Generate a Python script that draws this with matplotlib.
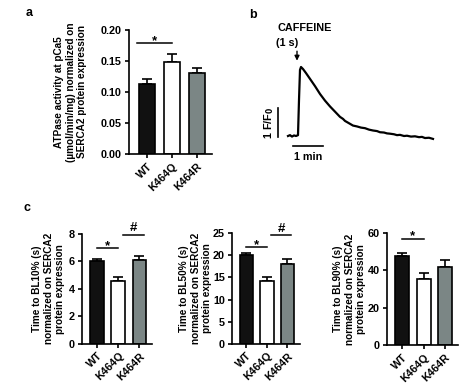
import numpy as np
import matplotlib
matplotlib.use("Agg")
import matplotlib.pyplot as plt

plt.rcParams['font.family'] = ['Liberation Sans', 'DejaVu Sans']
plt.rcParams['font.weight'] = 'bold'

groups = ['WT', 'K464Q', 'K464R']
bar_colors = ['#111111', '#ffffff', '#7b8685']

# panel a: ATPase activity
atpase_mean = [0.113, 0.149, 0.131]
atpase_err = [0.008, 0.013, 0.007]

# panel c: time to baseline
bl10_mean = [6.0, 4.55, 6.1]
bl10_err = [0.2, 0.28, 0.25]
bl50_mean = [20.1, 14.1, 18.1]
bl50_err = [0.5, 0.9, 1.1]
bl90_mean = [47.5, 35.5, 42.0]
bl90_err = [2.0, 3.2, 3.5]

# panel b: caffeine transient (time in s, F/F0)
trace_t = [0, 4, 8, 12, 16, 20, 22, 24, 26, 30, 36, 44, 54, 64, 74, 84, 94,
           104, 110, 114, 120, 124, 130, 138, 146, 154, 162, 170, 178, 184,
           192, 198, 204, 212, 218, 224, 232, 238, 246, 254, 262, 268, 274,
           282, 290]
trace_f = [1.00, 1.03, 0.98, 1.02, 1.00, 1.03, 2.24, 3.28, 3.38, 3.31, 3.17,
           2.97, 2.72, 2.45, 2.22, 2.02, 1.84, 1.66, 1.59, 1.52, 1.46, 1.42,
           1.36, 1.33, 1.29, 1.27, 1.22, 1.19, 1.17, 1.13, 1.12, 1.09, 1.08,
           1.06, 1.03, 1.04, 1.00, 1.01, 0.98, 0.99, 0.96, 0.97, 0.93, 0.94,
           0.90]


def bar_panel(ax, means, errs, ylim, yticks, fmt, ylabel, label_x):
    x = np.arange(len(groups))
    ax.bar(x, means, width=0.65, color=bar_colors, edgecolor='black',
           linewidth=1.2, zorder=2)
    ax.errorbar(x, means, yerr=[[0, 0, 0], errs], fmt='none', ecolor='black',
                elinewidth=1.2, capsize=3.5, capthick=1.2, zorder=1)
    ax.set_xlim(-0.72, 2.6)
    ax.set_ylim(*ylim)
    ax.set_yticks(yticks)
    ax.set_yticklabels([fmt.format(v) for v in yticks], fontsize=7.8,
                       fontweight='bold')
    ax.set_xticks(x)
    ax.set_xticklabels(groups, rotation=45, ha='right', rotation_mode='anchor',
                       fontsize=7.8, fontweight='bold')
    for s in ['top', 'right']:
        ax.spines[s].set_visible(False)
    for s in ['left', 'bottom']:
        ax.spines[s].set_linewidth(1.2)
    ax.tick_params(width=1.2, length=3, pad=2)
    ax.set_ylabel(ylabel, fontsize=7.2, fontweight='bold', linespacing=1.2)
    ax.yaxis.set_label_coords(label_x, 0.5)


def sig(ax, i, j, y, mark, dy):
    ax.plot([i, j], [y, y], color='black', lw=1.1, clip_on=False)
    ax.text((i + j) / 2, y + dy, mark, ha='center', va='bottom',
            fontsize=9.5, fontweight='bold', clip_on=False)


fig = plt.figure(figsize=(4.74, 3.89), dpi=100)

# panel a
ax_a = fig.add_axes([0.272, 0.604, 0.175, 0.319])
bar_panel(ax_a, atpase_mean, atpase_err, (0, 0.2), [0, 0.05, 0.10, 0.15, 0.20],
          '{:.2f}', 'ATPase activity at pCa5\n(\u00b5mol/min/mg) normalized on\nSERCA2 protein expression',
          -0.50)
sig(ax_a, -0.4, 1.0, 0.179, '*', -0.006)

# panel c
ax_c1 = fig.add_axes([0.173, 0.116, 0.148, 0.283])
bar_panel(ax_c1, bl10_mean, bl10_err, (0, 8), [0, 2, 4, 6, 8], '{:g}',
          'Time to BL10% (s)\nnormalized on SERCA2\nprotein expression', -0.24)
sig(ax_c1, 0, 1, 7.0, '*', -0.3)
sig(ax_c1, 1.2, 2.2, 7.9, '#', 0.05)

ax_c2 = fig.add_axes([0.489, 0.116, 0.143, 0.285])
bar_panel(ax_c2, bl50_mean, bl50_err, (0, 25), [0, 5, 10, 15, 20, 25], '{:g}',
          'Time to BL50% (s)\nnormalized on SERCA2\nprotein expression', -0.29)
sig(ax_c2, 0, 1, 21.8, '*', -1.0)
sig(ax_c2, 1.2, 2.2, 24.5, '#', 0.1)

ax_c3 = fig.add_axes([0.816, 0.113, 0.150, 0.288])
bar_panel(ax_c3, bl90_mean, bl90_err, (0, 60), [0, 20, 40, 60], '{:g}',
          'Time to BL90% (s)\nnormalized on SERCA2\nprotein expression', -0.29)
sig(ax_c3, 0, 1, 57.0, '*', -2.0)

# panel b: trace with scale bars
ax_b = fig.add_axes([255 / 474, 1 - 170 / 389, 185 / 474, 150 / 389])
ax_b.plot(trace_t, trace_f, color='black', lw=1.6)
ax_b.set_xlim(-66, 304)
ax_b.set_ylim(-0.172, 5.0)
ax_b.axis('off')
ax_b.plot([-20, -20], [0.97, 1.97], color='black', lw=1.2)
ax_b.text(-37, 1.47, '1 F/F$_0$', rotation=90, ha='center', va='center',
          fontsize=7.8, fontweight='bold')
ax_b.plot([10, 70], [0.655, 0.655], color='black', lw=1.2)
ax_b.text(40, 0.45, '1 min', ha='center', va='top', fontsize=7.8,
          fontweight='bold')
ax_b.text(34, 4.72, 'CAFFEINE', ha='center', va='center', fontsize=7.8,
          fontweight='bold')
ax_b.text(-1, 4.22, '(1 s)', ha='center', va='center', fontsize=7.8,
          fontweight='bold')
ax_b.annotate('', xy=(18, 3.5), xytext=(18, 4.02),
              arrowprops=dict(arrowstyle='-|>', color='black', lw=1.0,
                              mutation_scale=7))

# panel letters
fig.text(29 / 474, 1 - 13 / 389, 'a', fontsize=9, fontweight='bold',
         ha='center', va='center')
fig.text(253 / 474, 1 - 15 / 389, 'b', fontsize=9, fontweight='bold',
         ha='center', va='center')
fig.text(27 / 474, 1 - 208 / 389, 'c', fontsize=9, fontweight='bold',
         ha='center', va='center')

fig.savefig('out.png', dpi=100)
